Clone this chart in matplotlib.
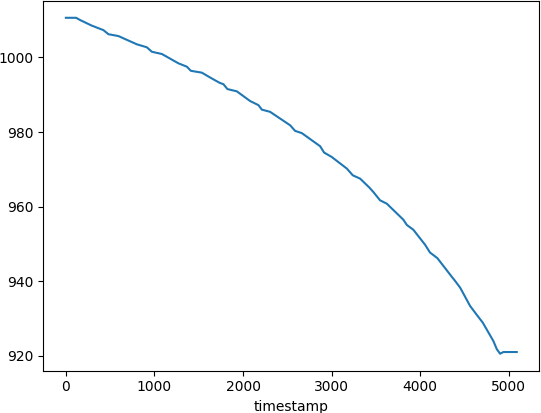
import matplotlib
matplotlib.use("Agg")
import matplotlib.pyplot as plt

timestamp = [0, 116, 161, 293, 424, 481, 594, 801, 914, 971, 1084, 1271, 1366, 1411,
             1535, 1629, 1734, 1779, 1824, 1930, 2080, 2174, 2212, 2306, 2532, 2588,
             2664, 2870, 2915, 3002, 3172, 3239, 3322, 3427, 3472, 3547, 3623, 3810,
             3849, 3923, 4055, 4111, 4194, 4357, 4394, 4451, 4563, 4639, 4707, 4826,
             4865, 4902, 4939, 5090]
value = [1010.6, 1010.6, 1010.0, 1008.5, 1007.3, 1006.2, 1005.7, 1003.5, 1002.7, 1001.5,
         1000.9, 998.4, 997.5, 996.4, 995.9, 994.6, 993.2, 992.8, 991.5, 990.9, 988.3,
         987.2, 986.0, 985.4, 981.8, 980.3, 979.7, 976.2, 974.5, 973.3, 970.2, 968.4,
         967.5, 965.1, 963.9, 961.7, 960.8, 956.5, 955.1, 953.8, 949.8, 947.7, 946.2,
         941.2, 940.1, 938.3, 933.4, 931.0, 928.9, 924.0, 921.8, 920.6, 921.05, 921.05]

W, H = 541, 413
fig = plt.figure(figsize=(W / 100, H / 100), dpi=100)
ax = fig.add_axes([43.3 / W, (H - 370.5) / H, 496 / W, 369.5 / H])
ax.plot(timestamp, value, color="C0")
ax.set_xlabel("timestamp")
ax.set_yticks([920, 940, 960, 980, 1000])
ax.set_xticks([0, 1000, 2000, 3000, 4000, 5000])
fig.savefig("out.png", dpi=100)
